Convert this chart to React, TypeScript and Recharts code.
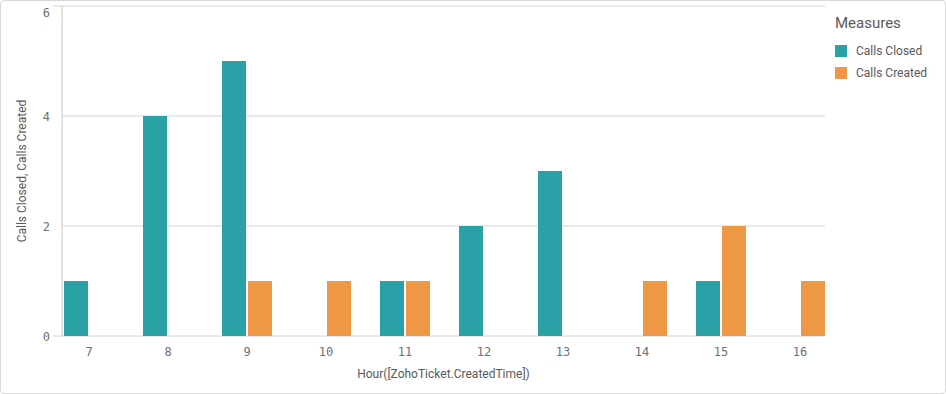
import React from 'react';
import { BarChart, Bar, XAxis, YAxis, CartesianGrid } from 'recharts';

const hours = ['7', '8', '9', '10', '11', '12', '13', '14', '15', '16'];
const callsClosed = [1, 4, 5, 0, 1, 2, 3, 0, 1, 0];
const callsCreated = [0, 0, 1, 1, 1, 0, 0, 1, 2, 1];
const yTicks = [0, 2, 4, 6];
const seriesNames = ['Calls Closed', 'Calls Created'];
const seriesColors = ['#2AA0A7', '#EE9845'];

const data = hours.map((h, i) => ({ hour: h, closed: callsClosed[i], created: callsCreated[i] }));

const TICK_FONT = '"DejaVu Sans Mono", monospace';
const TEXT_FONT = 'Roboto, "Noto Sans", sans-serif';

const YTick = (props: any) => {
  const { y, payload } = props;
  const v = payload.value;
  const isTop = v === 6;
  const showTickLine = v === 0 || v === 6;
  return (
    <g>
      {showTickLine && <line x1={53} x2={62} y1={y} y2={y} stroke="#d4d4d4" strokeWidth={1} />}
      <text
        x={50}
        y={isTop ? y + 7 : y + 1}
        textAnchor="end"
        dominantBaseline="central"
        fontFamily={TICK_FONT}
        fontSize={12}
        fill="#707070"
      >
        {v}
      </text>
    </g>
  );
};

export default function App() {
  return (
    <div
      style={{
        position: 'absolute',
        left: 0,
        top: 0,
        width: 946,
        height: 394,
        boxSizing: 'border-box',
        border: '1px solid #d9d9d9',
        borderRadius: 4,
        background: '#fff',
        fontFamily: TEXT_FONT,
      }}
    >
      <div style={{ position: 'absolute', left: -1, top: -1 }}>
        <BarChart
          width={946}
          height={394}
          data={data}
          margin={{ top: 6, right: 121, bottom: 28, left: 0 }}
          barCategoryGap={14.5}
          barGap={2}
        >
          <CartesianGrid vertical={false} stroke="#d4d4d4" strokeWidth={1} />
          <XAxis
            dataKey="hour"
            padding={{ left: -12.5, right: -14.5 }}
            axisLine={false}
            tickLine={false}
            tickSize={0}
            tickMargin={11.5}
            height={30}
            tick={{ fontFamily: TICK_FONT, fontSize: 12, fill: '#707070' }}
            label={{
              value: 'Hour([ZohoTicket.CreatedTime])',
              position: 'bottom',
              offset: 3,
              style: { fontFamily: TEXT_FONT, fontSize: 12, fill: '#595959' },
            }}
          />
          <YAxis
            width={62}
            domain={[0, 6]}
            ticks={yTicks}
            interval={0}
            axisLine={{ stroke: '#c8c8c8' }}
            tickLine={false}
            tick={<YTick />}
            label={{
              value: 'Calls Closed, Calls Created',
              angle: -90,
              position: 'insideLeft',
              offset: 22,
              style: { textAnchor: 'middle', fontFamily: TEXT_FONT, fontSize: 12, fill: '#595959' },
            }}
          />
          <Bar dataKey="closed" name={seriesNames[0]} fill={seriesColors[0]} isAnimationActive={false} />
          <Bar dataKey="created" name={seriesNames[1]} fill={seriesColors[1]} isAnimationActive={false} />
        </BarChart>
        <div style={{ position: 'absolute', left: 835, top: 14, fontFamily: TEXT_FONT, color: '#595959' }}>
          <div style={{ fontSize: 15, lineHeight: '18px', marginBottom: 8 }}>Measures</div>
          {seriesNames.map((n, i) => (
            <div key={n} style={{ display: 'flex', alignItems: 'center', height: 22, fontSize: 12 }}>
              <span
                style={{ display: 'inline-block', width: 12, height: 12, background: seriesColors[i], marginRight: 9 }}
              />
              <span>{n}</span>
            </div>
          ))}
        </div>
      </div>
    </div>
  );
}
